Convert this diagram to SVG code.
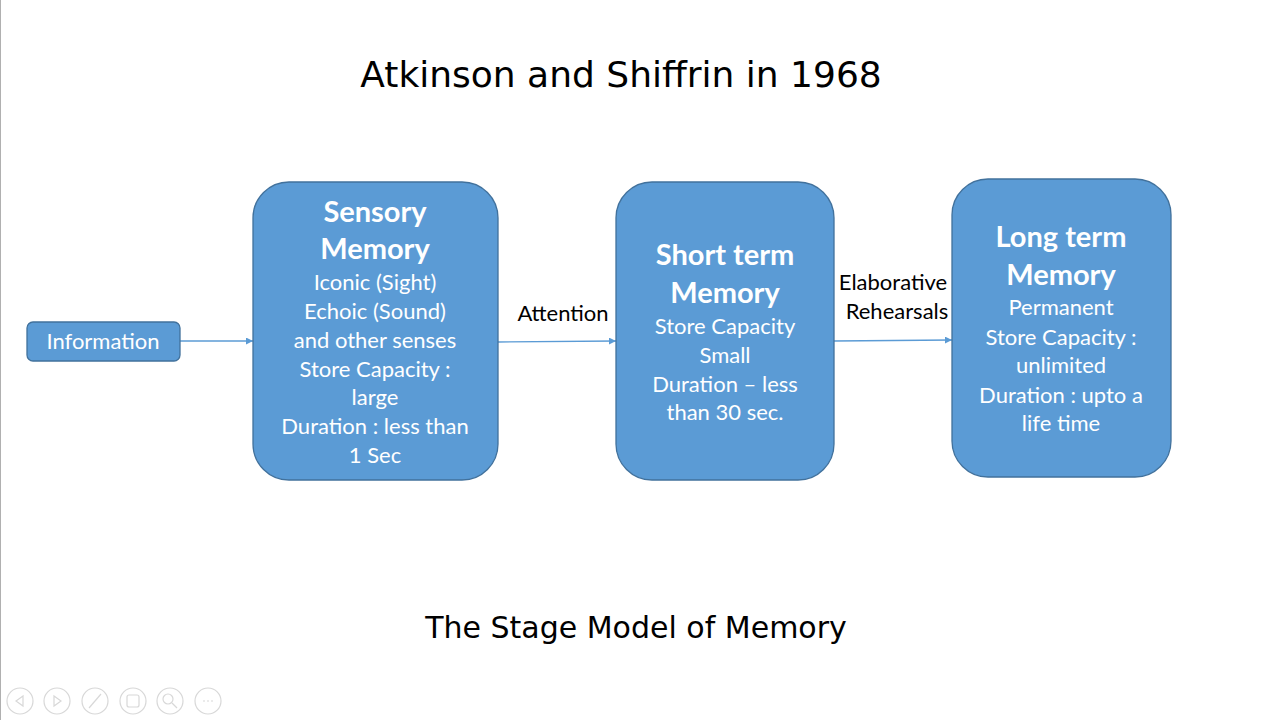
<svg xmlns="http://www.w3.org/2000/svg" width="1280" height="720" viewBox="0 0 1280 720">
<defs>
<style>
.box{fill:#5B9BD5;stroke:#41719C;stroke-width:1.3}
.h{font-family:Lato,"Open Sans",sans-serif;font-weight:bold;font-size:29px;fill:#fff;text-anchor:middle}
.t{font-family:Lato,"Open Sans",sans-serif;font-size:22px;fill:#fff;text-anchor:middle}
.lbl{font-family:Lato,"Open Sans",sans-serif;font-size:22px;fill:#000;text-anchor:middle}
.title{font-family:"DejaVu Sans",sans-serif;fill:#000;text-anchor:middle}
.conn{stroke:#5B9BD5;stroke-width:1.3;fill:none;marker-end:url(#ah)}
.ui{fill:none;stroke:#d8d8d8;stroke-width:1.2}
</style>
<marker id="ah" viewBox="0 0 10 10" refX="10" refY="5" markerWidth="7" markerHeight="7" markerUnits="userSpaceOnUse" orient="auto">
<path d="M0,0 L10,5 L0,10 z" fill="#5B9BD5"/>
</marker>
</defs>
<rect width="1280" height="720" fill="#fff"/>
<line x1="0.5" y1="0" x2="0.5" y2="720" stroke="#b0b0b0" stroke-width="1"/>
<text class="title" x="621" y="87" font-size="36">Atkinson and Shiffrin in 1968</text>
<text class="title" x="636" y="638" font-size="30">The Stage Model of Memory</text>
<g id="connectors">
<line class="conn" x1="180" y1="341" x2="253" y2="341"/>
<line class="conn" x1="498" y1="342" x2="616" y2="341"/>
<line class="conn" x1="834" y1="341" x2="952" y2="340"/>
<text class="lbl" x="563" y="321">Attention</text>
<text class="lbl" x="893" y="290">Elaborative</text>
<text class="lbl" x="897" y="319">Rehearsals</text>
</g>
<g id="information">
<rect class="box" x="27" y="322" width="153" height="39" rx="6"/>
<text class="t" x="103" y="349">Information</text>
</g>
<g id="sensory">
<rect class="box" x="253" y="182" width="245" height="298" rx="36"/>
<text class="h" x="375" y="222">Sensory</text>
<text class="h" x="375" y="259">Memory</text>
<text class="t" x="375" y="290">Iconic (Sight)</text>
<text class="t" x="375" y="319">Echoic (Sound)</text>
<text class="t" x="375" y="348">and other senses</text>
<text class="t" x="375" y="377">Store Capacity :</text>
<text class="t" x="375" y="405">large</text>
<text class="t" x="375" y="434">Duration : less than</text>
<text class="t" x="375" y="463">1 Sec</text>
</g>
<g id="shortterm">
<rect class="box" x="616" y="182" width="218" height="298" rx="36"/>
<text class="h" x="725" y="265">Short term</text>
<text class="h" x="725" y="303">Memory</text>
<text class="t" x="725" y="334">Store Capacity</text>
<text class="t" x="725" y="363">Small</text>
<text class="t" x="725" y="392">Duration – less</text>
<text class="t" x="725" y="420">than 30 sec.</text>
</g>
<g id="longterm">
<rect class="box" x="952" y="179" width="219" height="298" rx="36"/>
<text class="h" x="1061" y="247">Long term</text>
<text class="h" x="1061" y="285">Memory</text>
<text class="t" x="1061" y="315">Permanent</text>
<text class="t" x="1061" y="345">Store Capacity :</text>
<text class="t" x="1061" y="373">unlimited</text>
<text class="t" x="1061" y="403">Duration : upto a</text>
<text class="t" x="1061" y="431">life time</text>
</g>
<g id="controls">
<circle class="ui" cx="20" cy="701" r="13"/>
<path class="ui" d="M23,696 L16,701 L23,706 z"/>
<circle class="ui" cx="57" cy="701" r="13"/>
<path class="ui" d="M54,696 L61,701 L54,706 z"/>
<circle class="ui" cx="95" cy="701" r="13"/>
<path class="ui" d="M89,708 L101,694"/>
<circle class="ui" cx="133" cy="701" r="13"/>
<rect class="ui" x="127" y="695" width="12" height="12" rx="2"/>
<circle class="ui" cx="170" cy="701" r="13"/>
<circle class="ui" cx="168" cy="699" r="5"/>
<path class="ui" d="M172,703 L177,708"/>
<circle class="ui" cx="208" cy="701" r="13"/>
<path class="ui" d="M203,701h2M207,701h2M211,701h2"/>
</g>
</svg>
